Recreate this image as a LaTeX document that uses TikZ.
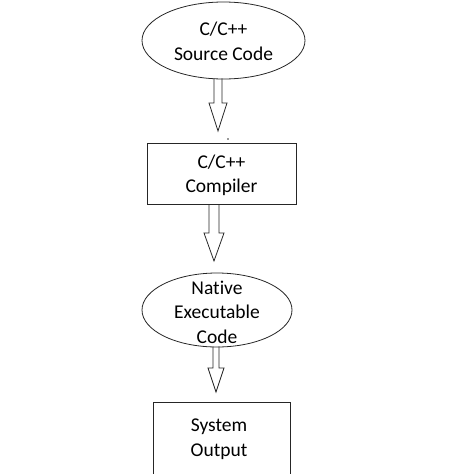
\documentclass[tikz,border=0pt]{standalone}
\usepackage{fontspec}
\setmainfont{Carlito}[Ligatures=NoCommon]
\usetikzlibrary{shapes.geometric,calc}
\tikzset{
  shapeline/.style={draw=black!85, line width=0.8pt},
  ell/.style={shapeline, ellipse, inner sep=0pt},
  box/.style={shapeline, rectangle, inner sep=0pt},
  txt/.style={align=center, inner sep=0pt, font=\fontsize{19.5}{24.5}\selectfont, text=black},
  blk/.style={draw=black!85, line width=0.8pt, line join=miter},
}
\begin{document}
\begin{tikzpicture}[x=1pt,y=-1pt]
\useasboundingbox (0,0) rectangle (474,474);
\clip (0,0) rectangle (474,474);
% shapes
\node[ell, minimum width=163, minimum height=77] (e1) at (223.5,40.5) {};
\node[txt] (t1) at ([yshift=-1]e1.center) {C/C++\\Source Code};
\node[box, minimum width=149, minimum height=61] (r1) at (221.5,173.5) {};
\node[txt] (t2) at ([yshift=-2]r1.center) {C/C++\\Compiler};
\node[ell, minimum width=150, minimum height=74] (e2) at (217,310) {};
\node[txt] (t3) at ([yshift=-2]e2.center) {Native\\Executable\\Code};
\node[box, minimum width=137, minimum height=78] (r2) at (221.5,441) {};
\node[txt] (t4) at (219,439) {System\\Output};
% arrow columns, head starts and tips
\coordinate (c1) at (218,0);  \coordinate (h1) at (218,103); \coordinate (p1) at (218,131);
\coordinate (c2) at (214,0);  \coordinate (h2) at (214,233); \coordinate (p2) at (214,261);
\coordinate (c3) at (216,0);  \coordinate (h3) at (216,368); \coordinate (p3) at (216,392);
% block arrows
\draw[blk] ($(e1.south -| c1)+(-4,-1)$) -- ($(h1)+(-4,0)$) -- ($(h1)+(-9,0)$) -- (p1)
  -- ($(h1)+(9,0)$) -- ($(h1)+(4,0)$) -- ($(e1.south -| c1)+(4,-1)$);
\draw[blk] ($(r1.south -| c2)+(-5,0)$) -- ($(h2)+(-5,0)$) -- ($(h2)+(-10,0)$) -- (p2)
  -- ($(h2)+(10,0)$) -- ($(h2)+(5,0)$) -- ($(r1.south -| c2)+(5,0)$);
\draw[blk] ($(e2.south -| c3)+(-3,-1)$) -- ($(h3)+(-3,0)$) -- ($(h3)+(-8,0)$) -- (p3)
  -- ($(h3)+(8,0)$) -- ($(h3)+(3,0)$) -- ($(e2.south -| c3)+(3,-1)$);
% small dot
\fill[black!80] (228,139) circle (0.9);
\end{tikzpicture}
\end{document}
